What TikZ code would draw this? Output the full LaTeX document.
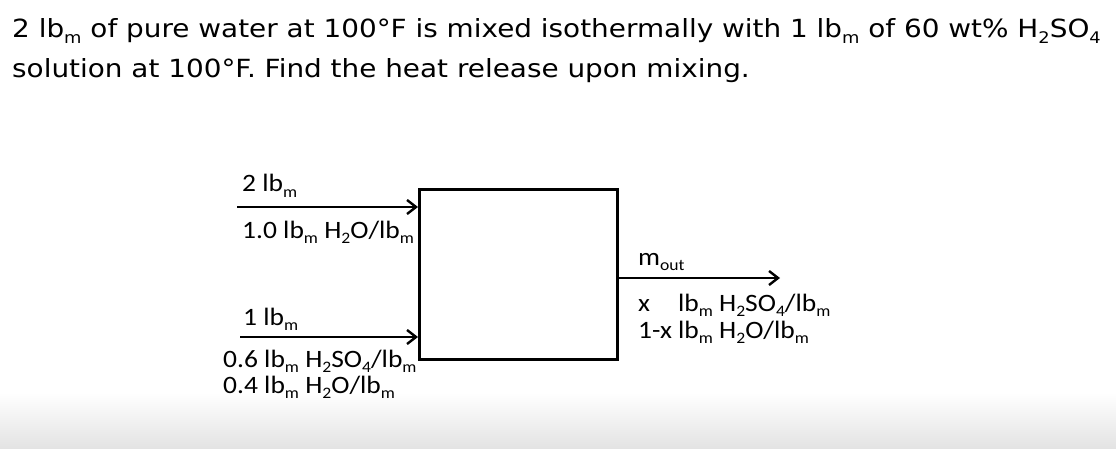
\documentclass[tikz,border=0pt]{standalone}
\usepackage{fontspec}
\setmainfont{DejaVu Sans}[FakeStretch=1.115]
\newfontfamily\calfont{Carlito}[FakeStretch=1.1]
\usetikzlibrary{arrows.meta}
\newcommand\lsub[1]{\raisebox{-0.22em}{\fontsize{0.64em}{0.64em}\selectfont #1}}
\begin{document}
\begin{tikzpicture}[x=1pt,y=-1pt,
  flow/.style={line width=2.6pt,-{Straight Barb[length=9pt,width=14pt,line width=2.4pt]}},
  lbl/.style={anchor=base west,inner sep=0pt,font=\calfont\fontsize{25}{30}\selectfont},
  ttl/.style={anchor=base west,inner sep=0pt,font=\fontsize{25}{30}\selectfont}]
\useasboundingbox (0,0) rectangle (1116,449);
\shade[top color=white,bottom color=black!11] (0,392) rectangle (1116,449);
\node[ttl] (t1) at (12,38) {2 lb\lsub{m} of pure water at 100°F is mixed isothermally with 1 lb\lsub{m} of 60 wt\% H\lsub{2}SO\lsub{4}};
\node[ttl] (t2) at (12,78) {solution at 100°F. Find the heat release upon mixing.};
\node[draw,line width=2.6pt,minimum width=198pt,minimum height=170pt,anchor=north west,inner sep=0pt] (mix) at (418,188) {};
\coordinate (in1) at (237,207);
\coordinate (in2) at (240,337);
\coordinate (out) at (780,278);
\draw[flow] (in1) -- (in1 -| mix.west);
\draw[flow] (in2) -- (in2 -| mix.west);
\draw[flow] (mix.east |- out) -- (out);
\node[lbl] (a1) at (242,192) {2 lb\lsub{m}};
\node[lbl] (a2) at (242,238) {1.0 lb\lsub{m} H\lsub{2}O/lb\lsub{m}};
\node[lbl] (b1) at (243,325) {1 lb\lsub{m}};
\node[lbl] (b2) at (223,367) {0.6 lb\lsub{m} H\lsub{2}SO\lsub{4}/lb\lsub{m}};
\node[lbl] (b3) at (223,393) {0.4 lb\lsub{m} H\lsub{2}O/lb\lsub{m}};
\node[lbl] (c1) at (638,265) {m\lsub{out}};
\node[lbl] (c2) at (638,311) {x\hspace{28pt}lb\lsub{m} H\lsub{2}SO\lsub{4}/lb\lsub{m}};
\node[lbl] (c3) at (638,338) {1-x lb\lsub{m} H\lsub{2}O/lb\lsub{m}};
\end{tikzpicture}
\end{document}
